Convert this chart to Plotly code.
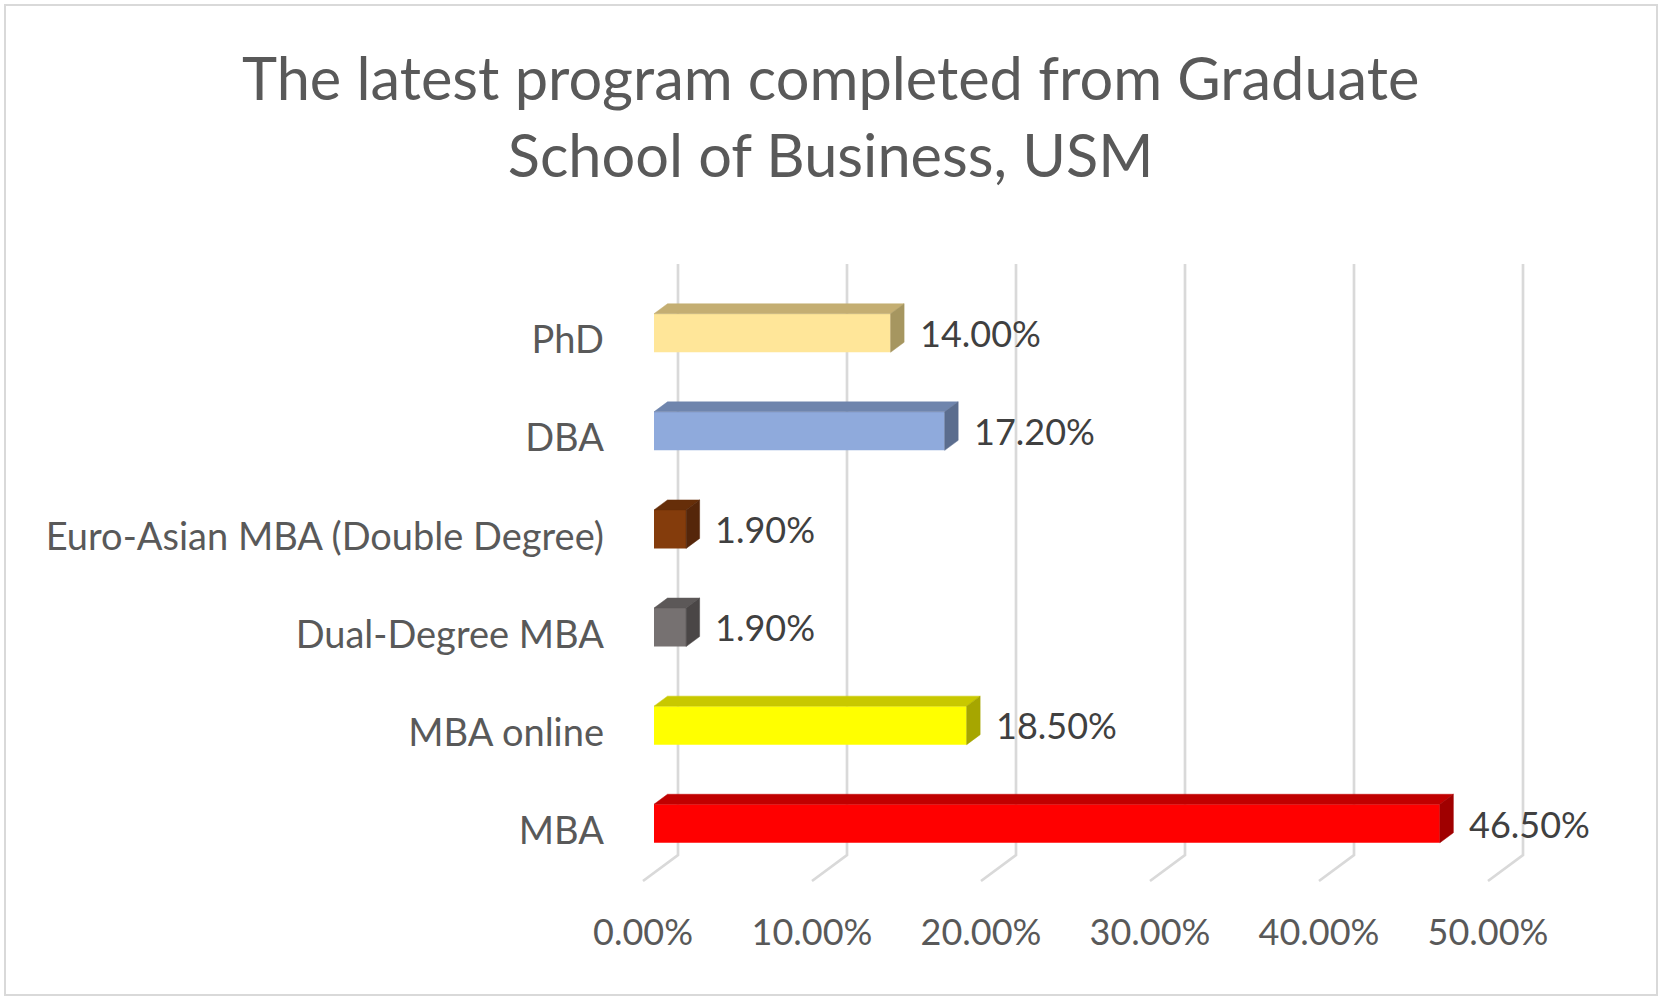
import plotly.graph_objects as go

# ---------------- data ----------------
categories = ["MBA", "MBA online", "Dual-Degree MBA",
              "Euro-Asian MBA (Double Degree)", "DBA", "PhD"]
values = [46.5, 18.5, 1.9, 1.9, 17.2, 14.0]
x_ticks = [0, 10, 20, 30, 40, 50]
x_tick_labels = ["0.00%", "10.00%", "20.00%", "30.00%", "40.00%", "50.00%"]
title_text = "The latest program completed from Graduate<br>School of Business, USM"

# ---------------- styles ----------------
front_colors = ["#FF0000", "#FFFF00", "#767171", "#843C0C", "#8FAADC", "#FFE699"]
top_colors = ["#C00000", "#C8C800", "#5C5858", "#662E09", "#6F85AD", "#C4AE72"]
side_colors = ["#A00000", "#A6A600", "#4A4646", "#55260A", "#5B6D8E", "#A69660"]
FONT = "Lato, 'Open Sans', sans-serif"

W, H = 1663, 1003
L, R = 620, 1600          # plot area in px
T, B = 240, 900
X0_PX, PPX = 654, 16.9     # px of value 0 on bar front plane, px per %
Y0_PX, PPY = 823.5, 98.1   # px of first category centre, px per category


def px_x(p):
    return (p - X0_PX) / PPX


def px_y(p):
    return (Y0_PX - p) / PPY


bw = 38.5 / PPY
ddx, ddy = 13.5 / PPX, 10 / PPY

idx = list(range(len(categories)))

fig = go.Figure()

# front faces
fig.add_trace(go.Bar(
    x=values, y=idx, orientation="h", width=bw,
    marker=dict(color=front_colors, line=dict(width=0)),
    hoverinfo="skip", showlegend=False))

# top and side faces
for i, v in zip(idx, values):
    yt, yb = i + bw / 2, i - bw / 2
    fig.add_trace(go.Scatter(
        x=[0, v, v + ddx, ddx, 0], y=[yt, yt, yt + ddy, yt + ddy, yt],
        fill="toself", fillcolor=top_colors[i], mode="lines",
        line=dict(width=0.5, color=top_colors[i]),
        hoverinfo="skip", showlegend=False))
    fig.add_trace(go.Scatter(
        x=[v, v + ddx, v + ddx, v, v], y=[yb, yb + ddy, yt + ddy, yt, yb],
        fill="toself", fillcolor=side_colors[i], mode="lines",
        line=dict(width=0.5, color=side_colors[i]),
        hoverinfo="skip", showlegend=False))

shapes = []
# wall gridlines + floor lines
gx = 24 / PPX
for t in x_ticks:
    shapes.append(dict(
        type="path", xref="x", yref="y", layer="below",
        path=(f"M {t + gx} {px_y(264)} L {t + gx} {px_y(855)} "
              f"L {t - 11 / PPX} {px_y(881)}"),
        line=dict(color="#D9D9D9", width=2.7)))

# outer border
pw, ph = R - L, B - T
shapes.append(dict(
    type="rect", xref="paper", yref="paper",
    x0=(5 - L) / pw, x1=(1657 - L) / pw,
    y0=(B - 995) / ph, y1=(B - 5) / ph,
    line=dict(color="#D9D9D9", width=2), layer="below"))

# data labels
annotations = []
for i, v in zip(idx, values):
    annotations.append(dict(
        x=v + 27 / PPX, y=i, xref="x", yref="y",
        text=f"{v:.2f}%", showarrow=False, xanchor="left", yanchor="middle",
        font=dict(family=FONT, size=36, color="#404040")))

# title
annotations.append(dict(
    x=(830 - L) / pw, y=(B - 116) / ph, xref="paper", yref="paper",
    text=title_text, showarrow=False, xanchor="center", yanchor="middle",
    font=dict(family=FONT, size=59.5, color="#595959")))

fig.update_layout(
    width=W, height=H,
    margin=dict(l=L, r=W - R, t=T, b=H - B, pad=0),
    paper_bgcolor="white", plot_bgcolor="white",
    xaxis=dict(range=[px_x(L), px_x(R)], tickvals=x_ticks,
               ticktext=x_tick_labels, showgrid=False,
               zeroline=False, showline=False, ticks="",
               ticklabelshift=-11, ticklabelstandoff=8,
               tickfont=dict(family=FONT, size=36, color="#595959")),
    yaxis=dict(range=[px_y(B), px_y(T)], tickvals=idx, ticktext=categories,
               showgrid=False, zeroline=False, showline=False, ticks="",
               ticklabelshift=7, ticklabelstandoff=15,
               tickfont=dict(family=FONT, size=38, color="#595959")),
    shapes=shapes, annotations=annotations, showlegend=False,
)

fig.write_html("out.html")
